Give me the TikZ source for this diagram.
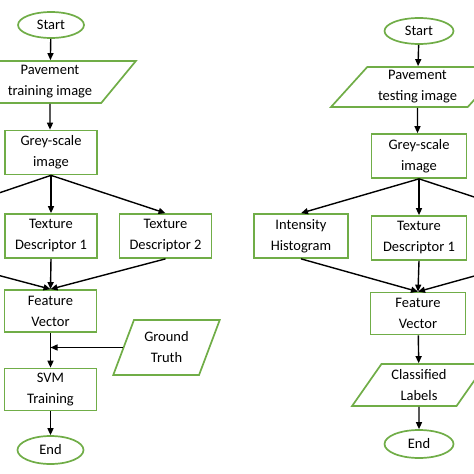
\documentclass[tikz,border=0pt]{standalone}
\usepackage{fontspec}
\setmainfont{Carlito}
\usetikzlibrary{shapes.geometric, arrows.meta, positioning}
\definecolor{boxgreen}{RGB}{112,173,71}

\begin{document}
\begin{tikzpicture}[
    x=1pt, y=-1pt,
    base/.style={draw=boxgreen, line width=1.7pt, fill=white, align=center,
                 font=\fontsize{14.5}{21}\selectfont, inner sep=1pt},
    term/.style={base, ellipse, minimum width=66pt, minimum height=26pt},
    proc/.style={base, rectangle, minimum width=92pt, minimum height=44pt},
    io/.style={base, trapezium, trapezium stretches=true},
    arr/.style={-{Triangle[length=7pt,width=6pt]}, line width=1.4pt},
]
\useasboundingbox (0,0) rectangle (474,474);
\clip (0,0) rectangle (474,474);

%% Training flow (left)
\node[term] (lstart) at (51,25) {Start};
\node[io, minimum width=172pt, minimum height=42pt,
      trapezium left angle=50, trapezium right angle=130]
                                 (limg)   at (50,82)    {Pavement\\training image};
\node[proc]                      (lgrey)  at (51,152.5) {Grey-scale\\image};
\coordinate (lhistin)  at (-63,214);   % off the left edge
\coordinate (lhistout) at (-63,259);
\node[proc]                      (ltex1)  at (51,236)   {Texture\\Descriptor 1};
\node[proc]                      (ltex2)  at (165.5,236) {Texture\\Descriptor 2};
\node[proc, minimum height=42pt] (lfeat)  at (50.5,311) {Feature\\Vector};
\node[io, minimum width=107pt, minimum height=55pt,
      trapezium left angle=66, trapezium right angle=114]
                                 (lgt)    at (166.5,347.5) {Ground\\Truth};
\node[proc, minimum height=42pt] (lsvm)   at (50.5,389.5) {SVM\\Training};
\node[term, minimum height=28pt] (lend)   at (50.5,450) {End};

%% Testing flow (right)
\node[term, minimum width=69pt]  (rstart) at (419,31)   {Start};
\node[io, minimum width=173pt, minimum height=40pt,
      trapezium left angle=50, trapezium right angle=130]
                                 (rimg)   at (417.5,87) {Pavement\\testing image};
\node[proc, minimum width=95pt]  (rgrey)  at (419,156)  {Grey-scale\\image};
\node[proc, minimum width=94pt]  (rhist)  at (301,236)  {Intensity\\Histogram};
\node[proc, minimum width=95pt]  (rtex1)  at (419,238)  {Texture\\Descriptor 1};
\coordinate (rtexin)  at (532,216);    % off the right edge
\coordinate (rtexout) at (532,260);
\node[proc, minimum width=95pt, minimum height=42pt]
                                 (rfeat)  at (418,313.5) {Feature\\Vector};
\node[io, minimum width=134pt, minimum height=42pt,
      trapezium left angle=56, trapezium right angle=124]
                                 (rlab)   at (419,385)  {Classified\\Labels};
\node[term, minimum width=69pt, minimum height=28pt]
                                 (rend)   at (419,444)  {End};

%% Arrows
\draw[arr] (lstart) -- (limg);
\draw[arr] (limg)   -- (limg.south |- lgrey.north);
\foreach \t in {lhistin, ltex1.north, ltex2.north}
    \draw[arr] (lgrey.south) -- (\t);
\foreach \t in {lhistout, ltex1.south, ltex2.south}
    \draw[arr] (\t) -- (lfeat.north);
\draw[arr] (lfeat)    -- (lsvm);
\draw[arr] (lgt.west) -- (lgt.west -| lfeat.south);
\draw[arr] (lsvm)     -- (lend);

\draw[arr] (rstart) -- (rimg);
\draw[arr] (rimg)   -- (rimg.south |- rgrey.north);
\foreach \t in {rhist.north, rtex1.north, rtexin}
    \draw[arr] (rgrey.south) -- (\t);
\foreach \t in {rhist.south, rtex1.south, rtexout}
    \draw[arr] (\t) -- (rfeat.north);
\draw[arr] (rfeat) -- (rlab);
\draw[arr] (rlab)  -- (rend);
\end{tikzpicture}
\end{document}
